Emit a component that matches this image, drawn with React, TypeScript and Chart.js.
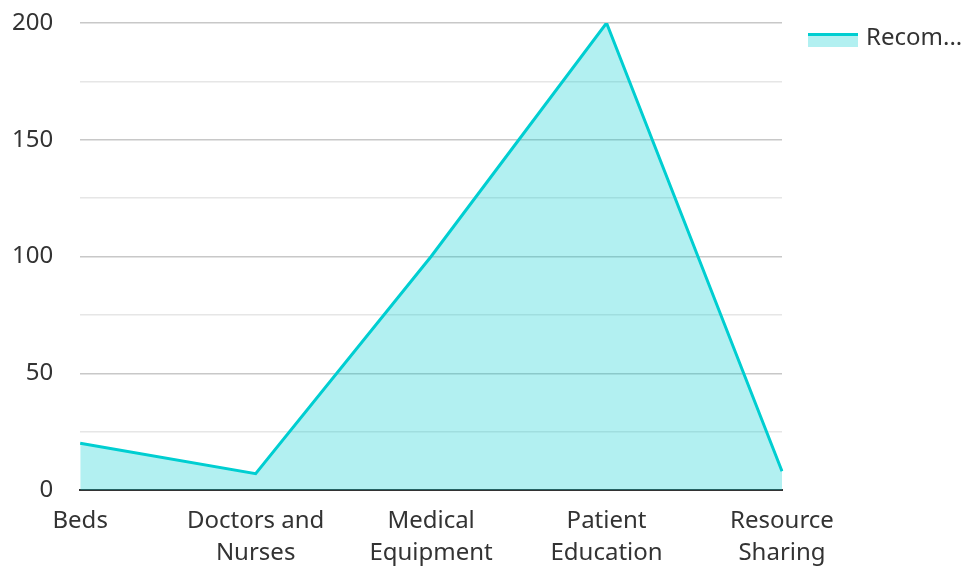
import React, { useEffect, useRef } from "react";
import { Chart, registerables } from "chart.js";

Chart.register(...registerables);

const categories: (string | string[])[] = [
  "Beds",
  ["Doctors and", "Nurses"],
  ["Medical", "Equipment"],
  ["Patient", "Education"],
  ["Resource", "Sharing"],
];
const seriesName = "Recommended Allocation";
const seriesValues = [20, 7, 100, 200, 8];
const yTicksShown = [0, 50, 100, 150, 200];

const LINE = "#00CED1";
const FILL = "rgba(0,206,209,0.3)";
const TEXT = "#333333";
const FONT = "'Noto Sans', sans-serif";

function makeLegendIcon(): HTMLCanvasElement {
  const c = document.createElement("canvas");
  c.width = 50;
  c.height = 20;
  const ctx = c.getContext("2d")!;
  ctx.fillStyle = FILL;
  ctx.fillRect(0, 5, 50, 14);
  ctx.fillStyle = LINE;
  ctx.fillRect(0, 5, 50, 3);
  return c;
}

export default function App() {
  const ref = useRef<HTMLCanvasElement | null>(null);
  useEffect(() => {
    document.body.style.margin = "0";
    const icon = makeLegendIcon();
    const chart = new Chart(ref.current!, {
      type: "line",
      data: {
        labels: categories,
        datasets: [
          {
            label: seriesName,
            data: seriesValues,
            borderColor: LINE,
            backgroundColor: FILL,
            borderWidth: 3,
            fill: "origin",
            pointRadius: 0,
            pointHoverRadius: 0,
            tension: 0,
          },
        ],
      },
      options: {
        animation: false,
        responsive: false,
        maintainAspectRatio: false,
        layout: { padding: { left: 12, top: -4, right: 0, bottom: 0 } },
        plugins: {
          tooltip: { enabled: false },
          legend: {
            position: "right",
            align: "start",
            maxWidth: 186,
            labels: {
              color: TEXT,
              font: { family: FONT, size: 24 },
              usePointStyle: true,
              pointStyleWidth: 42,
              boxHeight: 15,
              padding: 30,
              generateLabels: (ch: any) =>
                ch.data.datasets.map((ds: any, i: number) => ({
                  text: ds.label.length > 5 ? ds.label.slice(0, 5) + "..." : ds.label,
                  fillStyle: FILL,
                  strokeStyle: LINE,
                  lineWidth: 0,
                  pointStyle: icon,
                  hidden: false,
                  datasetIndex: i,
                  fontColor: TEXT,
                })),
            },
          },
        },
        scales: {
          x: {
            offset: false,
            grid: { display: false, drawTicks: false },
            border: { display: true, color: TEXT, width: 2 },
            afterFit: (s: any) => {
              s.height = 76;
            },
            ticks: {
              color: TEXT,
              font: { family: FONT, size: 24, lineHeight: 1.3 },
              padding: 16,
              maxRotation: 0,
              autoSkip: false,
            },
          },
          y: {
            min: 0,
            max: 200,
            border: { display: false },
            afterFit: (s: any) => {
              s.paddingTop = 23;
            },
            grid: {
              drawTicks: true,
              tickLength: 27,
              tickColor: "rgba(0,0,0,0)",
              lineWidth: 1.5,
              color: (ctx: any) => {
                const v = ctx.tick ? ctx.tick.value : 0;
                if (v === 0) return "rgba(0,0,0,0)";
                return yTicksShown.includes(v) ? "#c8c8c8" : "#e6e6e6";
              },
            },
            ticks: {
              stepSize: 25,
              color: TEXT,
              padding: 0,
              font: { family: FONT, size: 24 },
              callback: (v: any) => (yTicksShown.includes(Number(v)) ? String(v) : ""),
            },
          },
        },
      },
    });
    return () => chart.destroy();
  }, []);
  return (
    <div style={{ width: 968, height: 566 }}>
      <canvas ref={ref} width={968} height={566} style={{ display: "block" }} />
    </div>
  );
}
